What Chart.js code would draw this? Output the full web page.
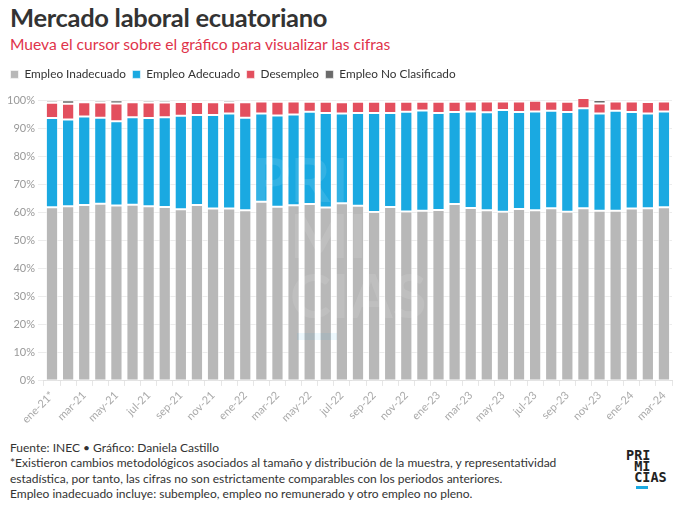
<!DOCTYPE html>
<html>
<head>
<meta charset="utf-8">
<script src="https://cdn.jsdelivr.net/npm/chart.js@4"></script>
<style>
  body { margin: 0; background: #fff; font-family: Lato, sans-serif; width: 688px; height: 514px; overflow: hidden; position: relative; }
  h1 { position: absolute; left: 10px; top: 2px; margin: 0; font-size: 25.5px; font-weight: 700; color: #333; letter-spacing: -0.3px; }
  .sub { position: absolute; left: 10px; top: 35px; font-size: 15.6px; color: #e0334a; }
  #wrap { position: absolute; left: -2px; top: 62px; width: 690px; height: 367px; }
  .foot { position: absolute; left: 10px; top: 440px; font-size: 12px; line-height: 15.3px; color: #333; }
  .logo { position: absolute; left: 626px; top: 450px; font: 700 13.5px/11px "DejaVu Sans Mono", monospace; color: #222; }
  .logo i { display: block; width: 12px; height: 3px; background: #1aa9e1; margin: 3px 0 0 10px; }
</style>
</head>
<body>
<h1>Mercado laboral ecuatoriano</h1>
<div class="sub">Mueva el cursor sobre el gráfico para visualizar las cifras</div>
<div id="wrap"><canvas id="chart"></canvas></div>
<div class="foot">Fuente: INEC • Gráfico: Daniela Castillo<br>
*Existieron cambios metodológicos asociados al tamaño y distribución de la muestra, y representatividad<br>
estadística, por tanto, las cifras no son estrictamente comparables con los periodos anteriores.<br>
Empleo inadecuado incluye: subempleo, empleo no remunerado y otro empleo no pleno.</div>
<div class="logo">PRI<br>&nbsp;MI<br>&nbsp;CIAS<i></i></div>
<script>
const meses = ['ene-21*','feb-21','mar-21','abr-21','may-21','jun-21','jul-21','ago-21','sep-21','oct-21','nov-21','dic-21',
  'ene-22','feb-22','mar-22','abr-22','may-22','jun-22','jul-22','ago-22','sep-22','oct-22','nov-22','dic-22',
  'ene-23','feb-23','mar-23','abr-23','may-23','jun-23','jul-23','ago-23','sep-23','oct-23','nov-23','dic-23',
  'ene-24','feb-24','mar-24'];
const inadecuado = [61.9,62.2,62.7,63.1,62.5,62.8,62.2,62.0,61.2,62.7,61.4,61.4,
  60.8,63.8,62.1,62.6,63.0,61.8,63.3,62.4,60.2,62.0,60.4,60.6,
  60.9,63.0,61.6,60.8,60.3,61.3,60.8,61.5,60.3,61.5,60.6,60.6,
  61.4,61.5,61.9];
const adecuado = [31.8,31.0,31.5,30.7,30.0,31.2,31.5,32.0,33.3,32.1,33.4,33.9,
  33.0,31.5,32.5,32.3,32.9,33.7,32.0,33.1,35.3,33.5,35.5,35.8,
  34.6,32.8,34.4,34.9,36.2,34.5,35.2,34.8,35.5,35.7,34.7,35.7,
  34.4,33.8,34.1];
const desempleo = [5.4,5.6,5.1,5.4,6.4,5.3,5.5,5.2,4.9,4.6,4.5,3.9,
  5.5,4.3,4.9,4.7,3.6,4.0,4.0,4.0,4.0,4.0,3.6,3.1,
  4.0,3.7,3.6,3.9,3.1,3.8,3.8,3.3,3.7,3.6,3.6,3.3,
  3.8,4.1,3.6];
const noClasificado = [0.8,1.2,0.7,0.8,1.1,0.7,0.8,0.8,0.6,0.6,0.7,0.8,
  0.7,0.4,0.5,0.4,0.5,0.5,0.7,0.5,0.5,0.5,0.5,0.5,
  0.5,0.5,0.4,0.4,0.4,0.4,0.2,0.4,0.5,0.0,1.2,0.4,
  0.4,0.6,0.4];

// marca de agua tenue sobre las barras
const marcaAgua = {
  id: 'marcaAgua',
  afterDatasetsDraw(chart) {
    const ctx = chart.ctx;
    ctx.save();
    ctx.fillStyle = 'rgba(255,255,255,0.11)';
    ctx.font = '700 62px Lato';
    ctx.textBaseline = 'alphabetic';
    ctx.fillText('PRI', 254, 140);
    ctx.fillText('MI', 292, 196);
    ctx.fillText('CIAS', 292, 256);
    ctx.fillStyle = 'rgba(26,169,225,0.08)';
    ctx.fillRect(299, 271, 40, 7);
    ctx.restore();
  }
};

// mas espacio bajo la leyenda
const margenLeyenda = {
  id: 'margenLeyenda',
  beforeInit(chart) {
    const fit = chart.legend.fit;
    chart.legend.fit = function () {
      fit.bind(chart.legend)();
      this.height += 10;
    };
  }
};

function serie(label, data, color) {
  return {
    label: label, data: data, backgroundColor: color,
    borderColor: 'rgba(255,255,255,0.6)', borderWidth: 1, borderSkipped: false,
    barPercentage: 0.76, categoryPercentage: 1, clip: false
  };
}

new Chart(document.getElementById('chart'), {
  type: 'bar',
  data: {
    labels: meses,
    datasets: [
      serie('Empleo Inadecuado', inadecuado, '#b8b8b8'),
      serie('Empleo Adecuado', adecuado, '#1aa9e1'),
      serie('Desempleo', desempleo, '#e34f5e'),
      serie('Empleo No Clasificado', noClasificado, '#6b6b6b')
    ]
  },
  options: {
    responsive: true,
    maintainAspectRatio: false,
    animation: false,
    layout: { padding: { left: 6, right: 16, top: 0, bottom: 0 } },
    plugins: {
      legend: {
        position: 'top',
        align: 'start',
        labels: { boxWidth: 8, boxHeight: 8, padding: 6.5, color: '#333', font: { family: 'Lato', size: 11.8 } }
      },
      tooltip: { enabled: false }
    },
    scales: {
      x: {
        stacked: true,
        grid: { drawOnChartArea: false, color: '#e6e6e6', tickLength: 5 },
        border: { color: '#e0e0e0' },
        ticks: {
          autoSkip: false, maxRotation: 45, minRotation: 45,
          color: '#aaa', font: { family: 'Lato', size: 11 },
          callback: (v, i) => i % 2 === 0 ? meses[i] : ''
        }
      },
      y: {
        stacked: true, min: 0, max: 100,
        grid: { color: '#ececec', tickLength: 6 },
        border: { display: false },
        ticks: { stepSize: 10, color: '#999', font: { family: 'Lato', size: 11 }, callback: v => v + '%' }
      }
    }
  },
  plugins: [marcaAgua, margenLeyenda]
});
</script>
</body>
</html>
